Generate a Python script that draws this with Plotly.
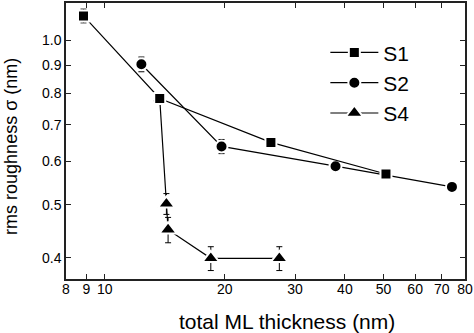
import plotly.graph_objects as go
import math

# Data
s1_x = [8.85, 13.74, 26.1, 50.7]
s1_y = [1.107, 0.782, 0.650, 0.569]
s1_err = [0.032, 0.010, 0.005, 0.005]

s2_x = [12.36, 19.63, 37.9, 74.2]
s2_y = [0.903, 0.639, 0.588, 0.539]
s2_err = [0.028, 0.019, 0.010, 0.005]

s4_x = [13.74, 14.28, 14.42, 18.45, 27.4]
s4_y = [0.782, 0.502, 0.450, 0.399, 0.399]
s4_err = [0.0, 0.022, 0.024, 0.020, 0.020]

x_ticks = [8, 9, 10, 20, 30, 40, 50, 60, 70, 80]
y_ticks = [0.4, 0.5, 0.6, 0.7, 0.8, 0.9, 1.0]
y_ticktext = ["0.4", "0.5", "0.6", "0.7", "0.8", "0.9", "1.0"]

FONT = "Arial, Liberation Sans, sans-serif"

fig = go.Figure()

def add_series(x, y, err, name, symbol, size):
    fig.add_trace(go.Scatter(
        x=x, y=y, name=name, mode="lines+markers",
        line=dict(color="black", width=1.2),
        marker=dict(symbol=symbol, size=size, color="black",
                    line=dict(color="white", width=2)),
        error_y=dict(type="data", array=err, visible=True,
                     color="black", thickness=1, width=3),
    ))

add_series(s4_x, s4_y, s4_err, "S4", "triangle-up", 15)
add_series(s2_x, s2_y, s2_err, "S2", "circle", 12)
add_series(s1_x, s1_y, s1_err, "S1", "square", 11)

axis_common = dict(
    showline=True, linecolor="#222", linewidth=1.5, mirror="ticks",
    ticks="inside", ticklen=5, tickcolor="#222", tickwidth=1,
    showgrid=False, zeroline=False,
    tickfont=dict(family=FONT, size=14, color="black"),
)

fig.update_xaxes(type="log", range=[math.log10(8), math.log10(80)],
                 tickvals=x_ticks, ticktext=[str(v) for v in x_ticks],
                 ticklabelstandoff=-4, **axis_common)
fig.update_yaxes(type="log", range=[-0.4368, 0.0677],
                 tickvals=y_ticks, ticktext=y_ticktext, **axis_common)

fig.update_layout(
    width=474, height=333,
    margin=dict(l=66, r=9, t=1, b=54),
    plot_bgcolor="white", paper_bgcolor="white",
    font=dict(family=FONT, color="black"),
    showlegend=True,
    legend=dict(x=0.65, y=0.894, xanchor="left", yanchor="top",
                traceorder="reversed", itemwidth=48,
                font=dict(family=FONT, size=21, color="black"),
                bgcolor="rgba(0,0,0,0)", borderwidth=0),
    annotations=[
        dict(text="total ML thickness (nm)", xref="paper", yref="paper",
             x=0.554, y=-0.1547, xanchor="center", yanchor="middle",
             showarrow=False, font=dict(family=FONT, size=21, color="black")),
        dict(text="rms roughness σ (nm)", xref="paper", yref="paper",
             x=-0.138, y=0.482, xanchor="center", yanchor="middle",
             textangle=-90, showarrow=False,
             font=dict(family=FONT, size=18, color="black")),
    ],
)

fig.write_html("out.html")
